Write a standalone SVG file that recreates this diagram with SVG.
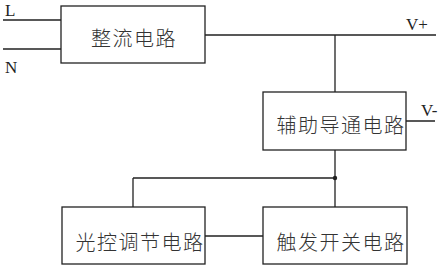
<svg xmlns="http://www.w3.org/2000/svg" width="443" height="269" viewBox="0 0 443 269">
<style>
.box{fill:#fff;stroke:#222;stroke-width:1.3}
.w{fill:none;stroke:#222;stroke-width:1.3}
.cn{font-family:"Noto Sans CJK SC","Noto Sans",sans-serif;font-size:20px;font-weight:300;fill:#333;letter-spacing:1.5px;text-anchor:middle}
.lat{font-family:"Liberation Serif",serif;font-size:17px;fill:#222}
</style>
<rect width="443" height="269" fill="#fff"/>
<g id="connectors">
<path class="w" d="M3,20H61 M3,49H61 M205,35H436 M335,35V92 M406,121H435 M335,150V178 M133,178H335 M133,178V207 M335,178V207 M205,236H263"/>
<circle cx="335" cy="178" r="2.2" fill="#222"/>
</g>
<g id="labels">
<text class="lat" x="5" y="16">L</text>
<text class="lat" x="5" y="73">N</text>
<text class="lat" x="406" y="30">V+</text>
<text class="lat" x="421" y="116">V-</text>
</g>
<g id="rectifier">
<rect class="box" x="61" y="6" width="144" height="57"/>
<text class="cn" x="134" y="46">整流电路</text>
</g>
<g id="aux">
<rect class="box" x="263" y="92" width="143" height="58"/>
<text class="cn" x="341" y="133">辅助导通电路</text>
</g>
<g id="light">
<rect class="box" x="62" y="207" width="143" height="57"/>
<text class="cn" x="140" y="250">光控调节电路</text>
</g>
<g id="trigger">
<rect class="box" x="263" y="207" width="144" height="57"/>
<text class="cn" x="341" y="250">触发开关电路</text>
</g>
</svg>
